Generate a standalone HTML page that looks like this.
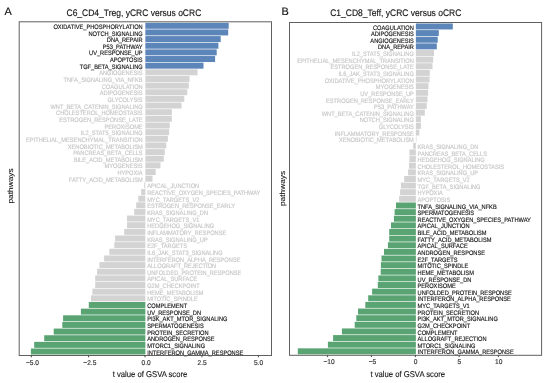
<!DOCTYPE html>
<html><head><meta charset="utf-8"><style>
html,body{margin:0;padding:0;background:#fff;}
svg{display:block;will-change:transform;text-rendering:geometricPrecision;font-family:"Liberation Sans",sans-serif;}
text{font-size:5.68px;white-space:pre;}
.tk{font-size:6.6px;fill:#333;stroke:#333;stroke-width:0.15px;}
.ti{font-size:8.5px;fill:#111;stroke:#111;stroke-width:0.12px;}
.le{font-size:10.9px;fill:#111;stroke:#111;stroke-width:0.15px;}
.yt{font-size:7.45px;fill:#111;stroke:#111;stroke-width:0.1px;}
.xt{font-size:7.7px;fill:#111;stroke:#111;stroke-width:0.1px;}
</style></head><body>
<svg width="550" height="383" viewBox="0 0 550 383">
<rect width="550" height="383" fill="#fff"/>
<rect x="145.35" y="22.80" width="83.35" height="5.98" fill="#5c85b9"/>
<text transform="translate(142.65,28.89) scale(1,1.12)" text-anchor="end" fill="#111" stroke="#111" stroke-width="0.12">OXIDATIVE_PHOSPHORYLATION</text>
<rect x="145.35" y="29.44" width="82.85" height="5.98" fill="#5c85b9"/>
<text transform="translate(142.65,35.54) scale(1,1.12)" text-anchor="end" fill="#111" stroke="#111" stroke-width="0.12">NOTCH_SIGNALING</text>
<rect x="145.35" y="36.09" width="75.35" height="5.98" fill="#5c85b9"/>
<text transform="translate(142.65,42.18) scale(1,1.12)" text-anchor="end" fill="#111" stroke="#111" stroke-width="0.12">DNA_REPAIR</text>
<rect x="145.35" y="42.74" width="73.05" height="5.98" fill="#5c85b9"/>
<text transform="translate(142.65,48.83) scale(1,1.12)" text-anchor="end" fill="#111" stroke="#111" stroke-width="0.12">P53_PATHWAY</text>
<rect x="145.35" y="49.39" width="71.35" height="5.98" fill="#5c85b9"/>
<text transform="translate(142.65,55.48) scale(1,1.12)" text-anchor="end" fill="#111" stroke="#111" stroke-width="0.12">UV_RESPONSE_UP</text>
<rect x="145.35" y="56.03" width="69.75" height="5.98" fill="#5c85b9"/>
<text transform="translate(142.65,62.13) scale(1,1.12)" text-anchor="end" fill="#111" stroke="#111" stroke-width="0.12">APOPTOSIS</text>
<rect x="145.35" y="62.68" width="58.15" height="5.98" fill="#5c85b9"/>
<text transform="translate(142.65,68.77) scale(1,1.12)" text-anchor="end" fill="#111" stroke="#111" stroke-width="0.12">TGF_BETA_SIGNALING</text>
<rect x="145.35" y="69.33" width="52.15" height="5.98" fill="#d3d3d3"/>
<text transform="translate(142.65,75.42) scale(1,1.12)" text-anchor="end" fill="#c4c4c4" stroke="#c8c8c8" stroke-width="0.12">ANGIOGENESIS</text>
<rect x="145.35" y="75.98" width="44.15" height="5.98" fill="#d3d3d3"/>
<text transform="translate(142.65,82.07) scale(1,1.12)" text-anchor="end" fill="#c4c4c4" stroke="#c8c8c8" stroke-width="0.12">TNFA_SIGNALING_VIA_NFKB</text>
<rect x="145.35" y="82.62" width="43.45" height="5.98" fill="#d3d3d3"/>
<text transform="translate(142.65,88.72) scale(1,1.12)" text-anchor="end" fill="#c4c4c4" stroke="#c8c8c8" stroke-width="0.12">COAGULATION</text>
<rect x="145.35" y="89.27" width="41.95" height="5.98" fill="#d3d3d3"/>
<text transform="translate(142.65,95.36) scale(1,1.12)" text-anchor="end" fill="#c4c4c4" stroke="#c8c8c8" stroke-width="0.12">ADIPOGENESIS</text>
<rect x="145.35" y="95.92" width="38.95" height="5.98" fill="#d3d3d3"/>
<text transform="translate(142.65,102.01) scale(1,1.12)" text-anchor="end" fill="#c4c4c4" stroke="#c8c8c8" stroke-width="0.12">GLYCOLYSIS</text>
<rect x="145.35" y="102.57" width="36.15" height="5.98" fill="#d3d3d3"/>
<text transform="translate(142.65,108.66) scale(1,1.12)" text-anchor="end" fill="#c4c4c4" stroke="#c8c8c8" stroke-width="0.12">WNT_BETA_CATENIN_SIGNALING</text>
<rect x="145.35" y="109.21" width="26.45" height="5.98" fill="#d3d3d3"/>
<text transform="translate(142.65,115.30) scale(1,1.12)" text-anchor="end" fill="#c4c4c4" stroke="#c8c8c8" stroke-width="0.12">CHOLESTEROL_HOMEOSTASIS</text>
<rect x="145.35" y="115.86" width="26.45" height="5.98" fill="#d3d3d3"/>
<text transform="translate(142.65,121.95) scale(1,1.12)" text-anchor="end" fill="#c4c4c4" stroke="#c8c8c8" stroke-width="0.12">ESTROGEN_RESPONSE_LATE</text>
<rect x="145.35" y="122.51" width="24.35" height="5.98" fill="#d3d3d3"/>
<text transform="translate(142.65,128.60) scale(1,1.12)" text-anchor="end" fill="#c4c4c4" stroke="#c8c8c8" stroke-width="0.12">PEROXISOME</text>
<rect x="145.35" y="129.16" width="23.75" height="5.98" fill="#d3d3d3"/>
<text transform="translate(142.65,135.25) scale(1,1.12)" text-anchor="end" fill="#c4c4c4" stroke="#c8c8c8" stroke-width="0.12">IL2_STAT5_SIGNALING</text>
<rect x="145.35" y="135.80" width="22.55" height="5.98" fill="#d3d3d3"/>
<text transform="translate(142.65,141.89) scale(1,1.12)" text-anchor="end" fill="#c4c4c4" stroke="#c8c8c8" stroke-width="0.12">EPITHELIAL_MESENCHYMAL_TRANSITION</text>
<rect x="145.35" y="142.45" width="20.95" height="5.98" fill="#d3d3d3"/>
<text transform="translate(142.65,148.54) scale(1,1.12)" text-anchor="end" fill="#c4c4c4" stroke="#c8c8c8" stroke-width="0.12">XENOBIOTIC_METABOLISM</text>
<rect x="145.35" y="149.10" width="19.40" height="5.98" fill="#d3d3d3"/>
<text transform="translate(142.65,155.19) scale(1,1.12)" text-anchor="end" fill="#c4c4c4" stroke="#c8c8c8" stroke-width="0.12">PANCREAS_BETA_CELLS</text>
<rect x="145.35" y="155.75" width="18.45" height="5.98" fill="#d3d3d3"/>
<text transform="translate(142.65,161.84) scale(1,1.12)" text-anchor="end" fill="#c4c4c4" stroke="#c8c8c8" stroke-width="0.12">BILE_ACID_METABOLISM</text>
<rect x="145.35" y="162.39" width="15.15" height="5.98" fill="#d3d3d3"/>
<text transform="translate(142.65,168.48) scale(1,1.12)" text-anchor="end" fill="#c4c4c4" stroke="#c8c8c8" stroke-width="0.12">MYOGENESIS</text>
<rect x="145.35" y="169.04" width="10.35" height="5.98" fill="#d3d3d3"/>
<text transform="translate(142.65,175.13) scale(1,1.12)" text-anchor="end" fill="#c4c4c4" stroke="#c8c8c8" stroke-width="0.12">HYPOXIA</text>
<rect x="145.35" y="175.69" width="7.15" height="5.98" fill="#d3d3d3"/>
<text transform="translate(142.65,181.78) scale(1,1.12)" text-anchor="end" fill="#c4c4c4" stroke="#c8c8c8" stroke-width="0.12">FATTY_ACID_METABOLISM</text>
<rect x="144.20" y="182.33" width="1.15" height="5.98" fill="#d3d3d3"/>
<text transform="translate(147.15,188.43) scale(1,1.12)" text-anchor="start" fill="#c4c4c4" stroke="#c8c8c8" stroke-width="0.12">APICAL_JUNCTION</text>
<rect x="141.20" y="188.98" width="4.15" height="5.98" fill="#d3d3d3"/>
<text transform="translate(147.15,195.07) scale(1,1.12)" text-anchor="start" fill="#c4c4c4" stroke="#c8c8c8" stroke-width="0.12">REACTIVE_OXYGEN_SPECIES_PATHWAY</text>
<rect x="138.30" y="195.63" width="7.05" height="5.98" fill="#d3d3d3"/>
<text transform="translate(147.15,201.72) scale(1,1.12)" text-anchor="start" fill="#c4c4c4" stroke="#c8c8c8" stroke-width="0.12">MYC_TARGETS_V2</text>
<rect x="136.20" y="202.28" width="9.15" height="5.98" fill="#d3d3d3"/>
<text transform="translate(147.15,208.37) scale(1,1.12)" text-anchor="start" fill="#c4c4c4" stroke="#c8c8c8" stroke-width="0.12">ESTROGEN_RESPONSE_EARLY</text>
<rect x="134.20" y="208.92" width="11.15" height="5.98" fill="#d3d3d3"/>
<text transform="translate(147.15,215.02) scale(1,1.12)" text-anchor="start" fill="#c4c4c4" stroke="#c8c8c8" stroke-width="0.12">KRAS_SIGNALING_DN</text>
<rect x="127.00" y="215.57" width="18.35" height="5.98" fill="#d3d3d3"/>
<text transform="translate(147.15,221.66) scale(1,1.12)" text-anchor="start" fill="#c4c4c4" stroke="#c8c8c8" stroke-width="0.12">MYC_TARGETS_V1</text>
<rect x="127.00" y="222.22" width="18.35" height="5.98" fill="#d3d3d3"/>
<text transform="translate(147.15,228.31) scale(1,1.12)" text-anchor="start" fill="#c4c4c4" stroke="#c8c8c8" stroke-width="0.12">HEDGEHOG_SIGNALING</text>
<rect x="124.20" y="228.87" width="21.15" height="5.98" fill="#d3d3d3"/>
<text transform="translate(147.15,234.96) scale(1,1.12)" text-anchor="start" fill="#c4c4c4" stroke="#c8c8c8" stroke-width="0.12">INFLAMMATORY_RESPONSE</text>
<rect x="115.10" y="235.51" width="30.25" height="5.98" fill="#d3d3d3"/>
<text transform="translate(147.15,241.61) scale(1,1.12)" text-anchor="start" fill="#c4c4c4" stroke="#c8c8c8" stroke-width="0.12">KRAS_SIGNALING_UP</text>
<rect x="114.30" y="242.16" width="31.05" height="5.98" fill="#d3d3d3"/>
<text transform="translate(147.15,248.25) scale(1,1.12)" text-anchor="start" fill="#c4c4c4" stroke="#c8c8c8" stroke-width="0.12">E2F_TARGETS</text>
<rect x="109.30" y="248.81" width="36.05" height="5.98" fill="#d3d3d3"/>
<text transform="translate(147.15,254.90) scale(1,1.12)" text-anchor="start" fill="#c4c4c4" stroke="#c8c8c8" stroke-width="0.12">IL6_JAK_STAT3_SIGNALING</text>
<rect x="104.10" y="255.46" width="41.25" height="5.98" fill="#d3d3d3"/>
<text transform="translate(147.15,261.55) scale(1,1.12)" text-anchor="start" fill="#c4c4c4" stroke="#c8c8c8" stroke-width="0.12">INTERFERON_ALPHA_RESPONSE</text>
<rect x="99.40" y="262.10" width="45.95" height="5.98" fill="#d3d3d3"/>
<text transform="translate(147.15,268.20) scale(1,1.12)" text-anchor="start" fill="#c4c4c4" stroke="#c8c8c8" stroke-width="0.12">ALLOGRAFT_REJECTION</text>
<rect x="97.05" y="268.75" width="48.30" height="5.98" fill="#d3d3d3"/>
<text transform="translate(147.15,274.84) scale(1,1.12)" text-anchor="start" fill="#c4c4c4" stroke="#c8c8c8" stroke-width="0.12">UNFOLDED_PROTEIN_RESPONSE</text>
<rect x="95.20" y="275.40" width="50.15" height="5.98" fill="#d3d3d3"/>
<text transform="translate(147.15,281.49) scale(1,1.12)" text-anchor="start" fill="#c4c4c4" stroke="#c8c8c8" stroke-width="0.12">APICAL_SURFACE</text>
<rect x="95.20" y="282.05" width="50.15" height="5.98" fill="#d3d3d3"/>
<text transform="translate(147.15,288.14) scale(1,1.12)" text-anchor="start" fill="#c4c4c4" stroke="#c8c8c8" stroke-width="0.12">G2M_CHECKPOINT</text>
<rect x="92.35" y="288.69" width="53.00" height="5.98" fill="#d3d3d3"/>
<text transform="translate(147.15,294.78) scale(1,1.12)" text-anchor="start" fill="#c4c4c4" stroke="#c8c8c8" stroke-width="0.12">HEME_METABOLISM</text>
<rect x="91.00" y="295.34" width="54.35" height="5.98" fill="#d3d3d3"/>
<text transform="translate(147.15,301.43) scale(1,1.12)" text-anchor="start" fill="#c4c4c4" stroke="#c8c8c8" stroke-width="0.12">MITOTIC_SPINDLE</text>
<rect x="88.80" y="301.99" width="56.55" height="5.98" fill="#5aa474"/>
<text transform="translate(147.15,308.08) scale(1,1.12)" text-anchor="start" fill="#111" stroke="#111" stroke-width="0.12">COMPLEMENT</text>
<rect x="80.90" y="308.64" width="64.45" height="5.98" fill="#5aa474"/>
<text transform="translate(147.15,314.73) scale(1,1.12)" text-anchor="start" fill="#111" stroke="#111" stroke-width="0.12">UV_RESPONSE_DN</text>
<rect x="63.10" y="315.28" width="82.25" height="5.98" fill="#5aa474"/>
<text transform="translate(147.15,321.37) scale(1,1.12)" text-anchor="start" fill="#111" stroke="#111" stroke-width="0.12">PI3K_AKT_MTOR_SIGNALING</text>
<rect x="62.30" y="321.93" width="83.05" height="5.98" fill="#5aa474"/>
<text transform="translate(147.15,328.02) scale(1,1.12)" text-anchor="start" fill="#111" stroke="#111" stroke-width="0.12">SPERMATOGENESIS</text>
<rect x="53.70" y="328.58" width="91.65" height="5.98" fill="#5aa474"/>
<text transform="translate(147.15,334.67) scale(1,1.12)" text-anchor="start" fill="#111" stroke="#111" stroke-width="0.12">PROTEIN_SECRETION</text>
<rect x="44.20" y="335.23" width="101.15" height="5.98" fill="#5aa474"/>
<text transform="translate(147.15,341.32) scale(1,1.12)" text-anchor="start" fill="#111" stroke="#111" stroke-width="0.12">ANDROGEN_RESPONSE</text>
<rect x="34.20" y="341.87" width="111.15" height="5.98" fill="#5aa474"/>
<text transform="translate(147.15,347.96) scale(1,1.12)" text-anchor="start" fill="#111" stroke="#111" stroke-width="0.12">MTORC1_SIGNALING</text>
<rect x="30.90" y="348.52" width="114.45" height="5.98" fill="#5aa474"/>
<text transform="translate(147.15,354.61) scale(1,1.12)" text-anchor="start" fill="#111" stroke="#111" stroke-width="0.12">INTERFERON_GAMMA_RESPONSE</text>
<rect x="19.20" y="21.80" width="252.30" height="333.70" fill="none" stroke="#606060" stroke-width="1"/>
<line x1="31.30" y1="355.50" x2="31.30" y2="357.30" stroke="#333" stroke-width="0.9"/>
<text class="tk" transform="translate(32.50,365.10) scale(1,1.06)" text-anchor="middle">−5.0</text>
<line x1="88.60" y1="355.50" x2="88.60" y2="357.30" stroke="#333" stroke-width="0.9"/>
<text class="tk" transform="translate(89.80,365.10) scale(1,1.06)" text-anchor="middle">−2.5</text>
<line x1="145.00" y1="355.50" x2="145.00" y2="357.30" stroke="#333" stroke-width="0.9"/>
<text class="tk" transform="translate(146.10,365.10) scale(1,1.06)" text-anchor="middle">0.0</text>
<line x1="201.90" y1="355.50" x2="201.90" y2="357.30" stroke="#333" stroke-width="0.9"/>
<text class="tk" transform="translate(202.10,365.10) scale(1,1.06)" text-anchor="middle">2.5</text>
<line x1="258.40" y1="355.50" x2="258.40" y2="357.30" stroke="#333" stroke-width="0.9"/>
<text class="tk" transform="translate(258.70,365.10) scale(1,1.06)" text-anchor="middle">5.0</text>
<text class="ti" transform="translate(66.50,15.8) scale(1,1.12)">C6_CD4_Treg, yCRC versus oCRC</text>
<text class="le" transform="translate(4.40,15.2)">A</text>
<text class="yt" transform="translate(13.40,186.00) rotate(-90) scale(1.12,1)" text-anchor="middle">pathways</text>
<text class="xt" transform="translate(150.00,376.7) scale(1,1.1)" text-anchor="middle">t value of GSVA score</text>
<rect x="415.85" y="23.49" width="36.95" height="5.97" fill="#5c85b9"/>
<text transform="translate(413.85,29.58) scale(1,1.12)" text-anchor="end" fill="#111" stroke="#111" stroke-width="0.12">COAGULATION</text>
<rect x="415.85" y="30.12" width="22.95" height="5.97" fill="#5c85b9"/>
<text transform="translate(413.85,36.21) scale(1,1.12)" text-anchor="end" fill="#111" stroke="#111" stroke-width="0.12">ADIPOGENESIS</text>
<rect x="415.85" y="36.75" width="21.85" height="5.97" fill="#5c85b9"/>
<text transform="translate(413.85,42.84) scale(1,1.12)" text-anchor="end" fill="#111" stroke="#111" stroke-width="0.12">ANGIOGENESIS</text>
<rect x="415.85" y="43.38" width="20.95" height="5.97" fill="#5c85b9"/>
<text transform="translate(413.85,49.47) scale(1,1.12)" text-anchor="end" fill="#111" stroke="#111" stroke-width="0.12">DNA_REPAIR</text>
<rect x="415.85" y="50.01" width="18.15" height="5.97" fill="#d3d3d3"/>
<text transform="translate(413.85,56.10) scale(1,1.12)" text-anchor="end" fill="#c4c4c4" stroke="#c8c8c8" stroke-width="0.12">IL2_STAT5_SIGNALING</text>
<rect x="415.85" y="56.64" width="17.35" height="5.97" fill="#d3d3d3"/>
<text transform="translate(413.85,62.73) scale(1,1.12)" text-anchor="end" fill="#c4c4c4" stroke="#c8c8c8" stroke-width="0.12">EPITHELIAL_MESENCHYMAL_TRANSITION</text>
<rect x="415.85" y="63.27" width="16.65" height="5.97" fill="#d3d3d3"/>
<text transform="translate(413.85,69.35) scale(1,1.12)" text-anchor="end" fill="#c4c4c4" stroke="#c8c8c8" stroke-width="0.12">ESTROGEN_RESPONSE_LATE</text>
<rect x="415.85" y="69.90" width="13.95" height="5.97" fill="#d3d3d3"/>
<text transform="translate(413.85,75.98) scale(1,1.12)" text-anchor="end" fill="#c4c4c4" stroke="#c8c8c8" stroke-width="0.12">IL6_JAK_STAT3_SIGNALING</text>
<rect x="415.85" y="76.53" width="13.75" height="5.97" fill="#d3d3d3"/>
<text transform="translate(413.85,82.61) scale(1,1.12)" text-anchor="end" fill="#c4c4c4" stroke="#c8c8c8" stroke-width="0.12">OXIDATIVE_PHOSPHORYLATION</text>
<rect x="415.85" y="83.16" width="12.65" height="5.97" fill="#d3d3d3"/>
<text transform="translate(413.85,89.24) scale(1,1.12)" text-anchor="end" fill="#c4c4c4" stroke="#c8c8c8" stroke-width="0.12">MYOGENESIS</text>
<rect x="415.85" y="89.79" width="12.25" height="5.97" fill="#d3d3d3"/>
<text transform="translate(413.85,95.87) scale(1,1.12)" text-anchor="end" fill="#c4c4c4" stroke="#c8c8c8" stroke-width="0.12">UV_RESPONSE_UP</text>
<rect x="415.85" y="96.42" width="11.65" height="5.97" fill="#d3d3d3"/>
<text transform="translate(413.85,102.50) scale(1,1.12)" text-anchor="end" fill="#c4c4c4" stroke="#c8c8c8" stroke-width="0.12">ESTROGEN_RESPONSE_EARLY</text>
<rect x="415.85" y="103.05" width="10.85" height="5.97" fill="#d3d3d3"/>
<text transform="translate(413.85,109.13) scale(1,1.12)" text-anchor="end" fill="#c4c4c4" stroke="#c8c8c8" stroke-width="0.12">P53_PATHWAY</text>
<rect x="415.85" y="109.68" width="8.95" height="5.97" fill="#d3d3d3"/>
<text transform="translate(413.85,115.76) scale(1,1.12)" text-anchor="end" fill="#c4c4c4" stroke="#c8c8c8" stroke-width="0.12">WNT_BETA_CATENIN_SIGNALING</text>
<rect x="415.85" y="116.31" width="5.05" height="5.97" fill="#d3d3d3"/>
<text transform="translate(413.85,122.39) scale(1,1.12)" text-anchor="end" fill="#c4c4c4" stroke="#c8c8c8" stroke-width="0.12">NOTCH_SIGNALING</text>
<rect x="415.85" y="122.94" width="5.05" height="5.97" fill="#d3d3d3"/>
<text transform="translate(413.85,129.02) scale(1,1.12)" text-anchor="end" fill="#c4c4c4" stroke="#c8c8c8" stroke-width="0.12">GLYCOLYSIS</text>
<rect x="415.85" y="129.57" width="3.45" height="5.97" fill="#d3d3d3"/>
<text transform="translate(413.85,135.65) scale(1,1.12)" text-anchor="end" fill="#c4c4c4" stroke="#c8c8c8" stroke-width="0.12">INFLAMMATORY_RESPONSE</text>
<rect x="415.85" y="136.20" width="0.60" height="5.97" fill="#d3d3d3"/>
<text transform="translate(413.85,142.28) scale(1,1.12)" text-anchor="end" fill="#c4c4c4" stroke="#c8c8c8" stroke-width="0.12">XENOBIOTIC_METABOLISM</text>
<rect x="413.20" y="142.83" width="2.65" height="5.97" fill="#d3d3d3"/>
<text transform="translate(417.55,148.91) scale(1,1.12)" text-anchor="start" fill="#c4c4c4" stroke="#c8c8c8" stroke-width="0.12">KRAS_SIGNALING_DN</text>
<rect x="409.40" y="149.45" width="6.45" height="5.97" fill="#d3d3d3"/>
<text transform="translate(417.55,155.54) scale(1,1.12)" text-anchor="start" fill="#c4c4c4" stroke="#c8c8c8" stroke-width="0.12">PANCREAS_BETA_CELLS</text>
<rect x="409.40" y="156.08" width="6.45" height="5.97" fill="#d3d3d3"/>
<text transform="translate(417.55,162.17) scale(1,1.12)" text-anchor="start" fill="#c4c4c4" stroke="#c8c8c8" stroke-width="0.12">HEDGEHOG_SIGNALING</text>
<rect x="409.00" y="162.71" width="6.85" height="5.97" fill="#d3d3d3"/>
<text transform="translate(417.55,168.80) scale(1,1.12)" text-anchor="start" fill="#c4c4c4" stroke="#c8c8c8" stroke-width="0.12">CHOLESTEROL_HOMEOSTASIS</text>
<rect x="408.10" y="169.34" width="7.75" height="5.97" fill="#d3d3d3"/>
<text transform="translate(417.55,175.43) scale(1,1.12)" text-anchor="start" fill="#c4c4c4" stroke="#c8c8c8" stroke-width="0.12">KRAS_SIGNALING_UP</text>
<rect x="404.20" y="175.97" width="11.65" height="5.97" fill="#d3d3d3"/>
<text transform="translate(417.55,182.06) scale(1,1.12)" text-anchor="start" fill="#c4c4c4" stroke="#c8c8c8" stroke-width="0.12">MYC_TARGETS_V2</text>
<rect x="400.90" y="182.60" width="14.95" height="5.97" fill="#d3d3d3"/>
<text transform="translate(417.55,188.69) scale(1,1.12)" text-anchor="start" fill="#c4c4c4" stroke="#c8c8c8" stroke-width="0.12">TGF_BETA_SIGNALING</text>
<rect x="400.10" y="189.23" width="15.75" height="5.97" fill="#d3d3d3"/>
<text transform="translate(417.55,195.31) scale(1,1.12)" text-anchor="start" fill="#c4c4c4" stroke="#c8c8c8" stroke-width="0.12">HYPOXIA</text>
<rect x="399.10" y="195.86" width="16.75" height="5.97" fill="#d3d3d3"/>
<text transform="translate(417.55,201.94) scale(1,1.12)" text-anchor="start" fill="#c4c4c4" stroke="#c8c8c8" stroke-width="0.12">APOPTOSIS</text>
<rect x="396.00" y="202.49" width="19.85" height="5.97" fill="#5aa474"/>
<text transform="translate(417.55,208.57) scale(1,1.12)" text-anchor="start" fill="#111" stroke="#111" stroke-width="0.12">TNFA_SIGNALING_VIA_NFKB</text>
<rect x="394.60" y="209.12" width="21.25" height="5.97" fill="#5aa474"/>
<text transform="translate(417.55,215.20) scale(1,1.12)" text-anchor="start" fill="#111" stroke="#111" stroke-width="0.12">SPERMATOGENESIS</text>
<rect x="393.90" y="215.75" width="21.95" height="5.97" fill="#5aa474"/>
<text transform="translate(417.55,221.83) scale(1,1.12)" text-anchor="start" fill="#111" stroke="#111" stroke-width="0.12">REACTIVE_OXYGEN_SPECIES_PATHWAY</text>
<rect x="391.00" y="222.38" width="24.85" height="5.97" fill="#5aa474"/>
<text transform="translate(417.55,228.46) scale(1,1.12)" text-anchor="start" fill="#111" stroke="#111" stroke-width="0.12">APICAL_JUNCTION</text>
<rect x="389.20" y="229.01" width="26.65" height="5.97" fill="#5aa474"/>
<text transform="translate(417.55,235.09) scale(1,1.12)" text-anchor="start" fill="#111" stroke="#111" stroke-width="0.12">BILE_ACID_METABOLISM</text>
<rect x="389.20" y="235.64" width="26.65" height="5.97" fill="#5aa474"/>
<text transform="translate(417.55,241.72) scale(1,1.12)" text-anchor="start" fill="#111" stroke="#111" stroke-width="0.12">FATTY_ACID_METABOLISM</text>
<rect x="387.90" y="242.27" width="27.95" height="5.97" fill="#5aa474"/>
<text transform="translate(417.55,248.35) scale(1,1.12)" text-anchor="start" fill="#111" stroke="#111" stroke-width="0.12">APICAL_SURFACE</text>
<rect x="384.00" y="248.90" width="31.85" height="5.97" fill="#5aa474"/>
<text transform="translate(417.55,254.98) scale(1,1.12)" text-anchor="start" fill="#111" stroke="#111" stroke-width="0.12">ANDROGEN_RESPONSE</text>
<rect x="381.50" y="255.53" width="34.35" height="5.97" fill="#5aa474"/>
<text transform="translate(417.55,261.61) scale(1,1.12)" text-anchor="start" fill="#111" stroke="#111" stroke-width="0.12">E2F_TARGETS</text>
<rect x="380.90" y="262.16" width="34.95" height="5.97" fill="#5aa474"/>
<text transform="translate(417.55,268.24) scale(1,1.12)" text-anchor="start" fill="#111" stroke="#111" stroke-width="0.12">MITOTIC_SPINDLE</text>
<rect x="380.70" y="268.79" width="35.15" height="5.97" fill="#5aa474"/>
<text transform="translate(417.55,274.87) scale(1,1.12)" text-anchor="start" fill="#111" stroke="#111" stroke-width="0.12">HEME_METABOLISM</text>
<rect x="378.40" y="275.41" width="37.45" height="5.97" fill="#5aa474"/>
<text transform="translate(417.55,281.50) scale(1,1.12)" text-anchor="start" fill="#111" stroke="#111" stroke-width="0.12">UV_RESPONSE_DN</text>
<rect x="377.80" y="282.04" width="38.05" height="5.97" fill="#5aa474"/>
<text transform="translate(417.55,288.13) scale(1,1.12)" text-anchor="start" fill="#111" stroke="#111" stroke-width="0.12">PEROXISOME</text>
<rect x="372.10" y="288.67" width="43.75" height="5.97" fill="#5aa474"/>
<text transform="translate(417.55,294.76) scale(1,1.12)" text-anchor="start" fill="#111" stroke="#111" stroke-width="0.12">UNFOLDED_PROTEIN_RESPONSE</text>
<rect x="368.20" y="295.30" width="47.65" height="5.97" fill="#5aa474"/>
<text transform="translate(417.55,301.39) scale(1,1.12)" text-anchor="start" fill="#111" stroke="#111" stroke-width="0.12">INTERFERON_ALPHA_RESPONSE</text>
<rect x="365.30" y="301.93" width="50.55" height="5.97" fill="#5aa474"/>
<text transform="translate(417.55,308.02) scale(1,1.12)" text-anchor="start" fill="#111" stroke="#111" stroke-width="0.12">MYC_TARGETS_V1</text>
<rect x="358.00" y="308.56" width="57.85" height="5.97" fill="#5aa474"/>
<text transform="translate(417.55,314.65) scale(1,1.12)" text-anchor="start" fill="#111" stroke="#111" stroke-width="0.12">PROTEIN_SECRETION</text>
<rect x="356.30" y="315.19" width="59.55" height="5.97" fill="#5aa474"/>
<text transform="translate(417.55,321.27) scale(1,1.12)" text-anchor="start" fill="#111" stroke="#111" stroke-width="0.12">PI3K_AKT_MTOR_SIGNALING</text>
<rect x="354.70" y="321.82" width="61.15" height="5.97" fill="#5aa474"/>
<text transform="translate(417.55,327.90) scale(1,1.12)" text-anchor="start" fill="#111" stroke="#111" stroke-width="0.12">G2M_CHECKPOINT</text>
<rect x="341.90" y="328.45" width="73.95" height="5.97" fill="#5aa474"/>
<text transform="translate(417.55,334.53) scale(1,1.12)" text-anchor="start" fill="#111" stroke="#111" stroke-width="0.12">COMPLEMENT</text>
<rect x="333.10" y="335.08" width="82.75" height="5.97" fill="#5aa474"/>
<text transform="translate(417.55,341.16) scale(1,1.12)" text-anchor="start" fill="#111" stroke="#111" stroke-width="0.12">ALLOGRAFT_REJECTION</text>
<rect x="327.90" y="341.71" width="87.95" height="5.97" fill="#5aa474"/>
<text transform="translate(417.55,347.79) scale(1,1.12)" text-anchor="start" fill="#111" stroke="#111" stroke-width="0.12">MTORC1_SIGNALING</text>
<rect x="297.80" y="348.34" width="118.05" height="5.97" fill="#5aa474"/>
<text transform="translate(417.55,354.42) scale(1,1.12)" text-anchor="start" fill="#111" stroke="#111" stroke-width="0.12">INTERFERON_GAMMA_RESPONSE</text>
<rect x="289.50" y="22.50" width="252.10" height="332.80" fill="none" stroke="#606060" stroke-width="1"/>
<line x1="327.60" y1="355.30" x2="327.60" y2="357.10" stroke="#333" stroke-width="0.9"/>
<text class="tk" transform="translate(329.10,364.30) scale(1,1.06)" text-anchor="middle">−10</text>
<line x1="371.40" y1="355.30" x2="371.40" y2="357.10" stroke="#333" stroke-width="0.9"/>
<text class="tk" transform="translate(372.50,364.30) scale(1,1.06)" text-anchor="middle">−5</text>
<line x1="415.40" y1="355.30" x2="415.40" y2="357.10" stroke="#333" stroke-width="0.9"/>
<text class="tk" transform="translate(415.60,364.30) scale(1,1.06)" text-anchor="middle">0</text>
<line x1="459.10" y1="355.30" x2="459.10" y2="357.10" stroke="#333" stroke-width="0.9"/>
<text class="tk" transform="translate(459.30,364.30) scale(1,1.06)" text-anchor="middle">5</text>
<line x1="498.40" y1="355.30" x2="498.40" y2="357.10" stroke="#333" stroke-width="0.9"/>
<text class="tk" transform="translate(498.70,364.30) scale(1,1.06)" text-anchor="middle">10</text>
<text class="ti" transform="translate(330.20,15.8) scale(1,1.12)">C1_CD8_Teff, yCRC versus oCRC</text>
<text class="le" transform="translate(281.40,15.2)">B</text>
<text class="yt" transform="translate(284.60,188.50) rotate(-90) scale(1.12,1)" text-anchor="middle">pathways</text>
<text class="xt" transform="translate(407.70,376.7) scale(1,1.1)" text-anchor="middle">t value of GSVA score</text>
</svg>
</body></html>
